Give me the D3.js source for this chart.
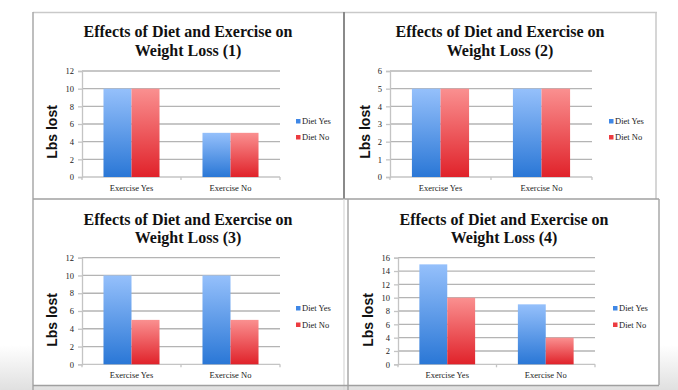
<!DOCTYPE html>
<html>
<head>
<meta charset="utf-8">
<script src="https://cdn.jsdelivr.net/npm/d3@7"></script>
<style>
  html, body { margin: 0; padding: 0; background: #ffffff; }
  svg { display: block; }
</style>
</head>
<body>
<svg id="chart" width="678" height="390"></svg>
<script>
// ---------------- DATA ----------------
const categories = ["Exercise Yes", "Exercise No"];
const seriesNames = ["Diet Yes", "Diet No"];
const titles = [
  ["Effects of Diet and Exercise on", "Weight Loss (1)"],
  ["Effects of Diet and Exercise on", "Weight Loss (2)"],
  ["Effects of Diet and Exercise on", "Weight Loss (3)"],
  ["Effects of Diet and Exercise on", "Weight Loss (4)"]
];
const chart1DietYes = [10, 5];
const chart1DietNo  = [10, 5];
const chart2DietYes = [5, 5];
const chart2DietNo  = [5, 5];
const chart3DietYes = [10, 10];
const chart3DietNo  = [5, 5];
const chart4DietYes = [15, 9];
const chart4DietNo  = [10, 4];
const yTicks1 = [0, 2, 4, 6, 8, 10, 12];
const yTicks2 = [0, 1, 2, 3, 4, 5, 6];
const yTicks3 = [0, 2, 4, 6, 8, 10, 12];
const yTicks4 = [0, 2, 4, 6, 8, 10, 12, 14, 16];
const yAxisTitle = "Lbs lost";

// ---------------- LAYOUT ----------------
const svg = d3.select("#chart");
const defs = svg.append("defs");

function grad(id, top, bottom) {
  const g = defs.append("linearGradient").attr("id", id)
    .attr("x1", 0).attr("y1", 0).attr("x2", 0).attr("y2", 1);
  g.append("stop").attr("offset", "0%").attr("stop-color", top);
  g.append("stop").attr("offset", "100%").attr("stop-color", bottom);
}
grad("gBlue", "#95c0fb", "#2a77d6");
grad("gRed", "#fa9090", "#e0222a");
grad("gBg", "#ffffff", "#e0e0e0");
const fills = ["url(#gBlue)", "url(#gRed)"];
const legendFills = ["#3f87e6", "#ec3b40"];

// page shading at the bottom
svg.append("rect").attr("x", 0).attr("y", 345).attr("width", 678).attr("height", 45)
  .attr("fill", "url(#gBg)");
// white panel interiors of the lower row
svg.append("rect").attr("x", 33).attr("y", 199).attr("width", 626).attr("height", 186)
  .attr("fill", "#ffffff");

// panel frames
const frame = svg.append("g").attr("fill", "none");
frame.append("line").attr("x1", 33).attr("x2", 657).attr("y1", 12.5).attr("y2", 12.5)
  .attr("stroke", "#c9c9c9").attr("stroke-width", 1.5);
frame.append("line").attr("x1", 33).attr("x2", 33).attr("y1", 12).attr("y2", 390)
  .attr("stroke", "#a8a8a8").attr("stroke-width", 1.5);
frame.append("line").attr("x1", 656).attr("x2", 656).attr("y1", 12).attr("y2", 199)
  .attr("stroke", "#c9c9c9").attr("stroke-width", 1.5);
frame.append("line").attr("x1", 344).attr("x2", 344).attr("y1", 12).attr("y2", 199)
  .attr("stroke", "#8a8a8a").attr("stroke-width", 2);
frame.append("line").attr("x1", 33).attr("x2", 659).attr("y1", 199).attr("y2", 199)
  .attr("stroke", "#a0a0a0").attr("stroke-width", 1.5);
frame.append("line").attr("x1", 344).attr("x2", 344).attr("y1", 199).attr("y2", 390)
  .attr("stroke", "#d8d8d8").attr("stroke-width", 1.2);
frame.append("line").attr("x1", 348).attr("x2", 348).attr("y1", 199).attr("y2", 390)
  .attr("stroke", "#a8a8a8").attr("stroke-width", 1.5);
frame.append("line").attr("x1", 659).attr("x2", 659).attr("y1", 199).attr("y2", 385)
  .attr("stroke", "#a8a8a8").attr("stroke-width", 1.5);
frame.append("line").attr("x1", 33).attr("x2", 659).attr("y1", 385.5).attr("y2", 385.5)
  .attr("stroke", "#a0a0a0").attr("stroke-width", 1.5);

const charts = [
  { title: titles[0], yes: chart1DietYes, no: chart1DietNo, ticks: yTicks1,
    x0: 82, x1: 280, yT: 71, yB: 177, tcx: 188, t1: 37, t2: 55.5,
    legX: 296, legY: [121.5, 137.5], ytX: 52, ytY: 132 },
  { title: titles[1], yes: chart2DietYes, no: chart2DietNo, ticks: yTicks2,
    x0: 390, x1: 592, yT: 71, yB: 177, tcx: 500, t1: 37, t2: 55.5,
    legX: 609, legY: [121.5, 137.5], ytX: 365, ytY: 132 },
  { title: titles[2], yes: chart3DietYes, no: chart3DietNo, ticks: yTicks3,
    x0: 82, x1: 280, yT: 257.7, yB: 364.3, tcx: 188, t1: 224.5, t2: 242.5,
    legX: 296, legY: [308.5, 325], ytX: 52, ytY: 320 },
  { title: titles[3], yes: chart4DietYes, no: chart4DietNo, ticks: yTicks4,
    x0: 398, x1: 595, yT: 257.7, yB: 364.3, tcx: 504, t1: 224.5, t2: 242.5,
    legX: 613, legY: [308.5, 325], ytX: 368, ytY: 320 }
];

const serif = "'Liberation Serif', 'DejaVu Serif', serif";

charts.forEach(c => {
  const g = svg.append("g");
  const yMax = d3.max(c.ticks);
  const y = d3.scaleLinear().domain([0, yMax]).range([c.yB, c.yT]);
  const x = d3.scaleBand().domain(categories).range([c.x0, c.x1])
    .paddingInner(0.434).paddingOuter(0.217);
  const xs = d3.scaleBand().domain(seriesNames).range([0, x.bandwidth()]);

  // gridlines
  g.append("g").selectAll("line").data(c.ticks.filter(t => t > 0)).join("line")
    .attr("x1", c.x0).attr("x2", c.x1)
    .attr("y1", d => y(d)).attr("y2", d => y(d))
    .attr("stroke", "#b4b4b4").attr("stroke-width", 1.3);

  // y axis
  const yAxis = d3.axisLeft(y).tickValues(c.ticks).tickSize(4).tickPadding(4)
    .tickFormat(d3.format("d"));
  const ya = g.append("g").attr("transform", `translate(${c.x0},0)`).call(yAxis);
  ya.select(".domain").attr("stroke", "#c4c4c4").attr("stroke-width", 1.3);
  ya.selectAll(".tick line").attr("stroke", "#c4c4c4").attr("stroke-width", 1.3);
  ya.selectAll(".tick text").attr("font-family", serif).attr("font-size", 8.5)
    .attr("fill", "#222");

  // x axis
  const xa = g.append("g").attr("transform", `translate(0,${c.yB})`);
  xa.append("line").attr("x1", c.x0).attr("x2", c.x1).attr("y1", 0).attr("y2", 0)
    .attr("stroke", "#c4c4c4").attr("stroke-width", 1.3);
  const bounds = [c.x0, (c.x0 + c.x1) / 2, c.x1];
  xa.selectAll("line.tk").data(bounds).join("line").attr("class", "tk")
    .attr("x1", d => d).attr("x2", d => d).attr("y1", 0).attr("y2", 3)
    .attr("stroke", "#c4c4c4").attr("stroke-width", 1.3);
  xa.selectAll("text").data(categories).join("text")
    .attr("x", d => x(d) + x.bandwidth() / 2).attr("y", 14)
    .attr("text-anchor", "middle")
    .attr("font-family", serif).attr("font-size", 8.5).attr("fill", "#222")
    .text(d => d);

  // bars
  const series = [c.yes, c.no];
  series.forEach((vals, si) => {
    g.append("g").selectAll("rect").data(categories).join("rect")
      .attr("x", (d) => x(d) + xs(seriesNames[si]))
      .attr("width", xs.bandwidth())
      .attr("y", (d, i) => y(vals[i]))
      .attr("height", (d, i) => c.yB - y(vals[i]))
      .attr("fill", fills[si]);
  });

  // title
  const tt = g.append("text").attr("text-anchor", "middle")
    .attr("font-family", serif).attr("font-weight", "bold").attr("font-size", 16)
    .attr("fill", "#111");
  tt.append("tspan").attr("x", c.tcx).attr("y", c.t1).text(c.title[0]);
  tt.append("tspan").attr("x", c.tcx).attr("y", c.t2).text(c.title[1]);

  // y axis title
  g.append("text")
    .attr("transform", `translate(${c.ytX},${c.ytY}) rotate(-90)`)
    .attr("text-anchor", "middle").attr("dy", "0.35em")
    .attr("font-family", "'Liberation Sans', Arial, sans-serif")
    .attr("font-weight", "bold").attr("font-size", 14).attr("fill", "#111")
    .text(yAxisTitle);

  // legend
  const lg = g.append("g");
  seriesNames.forEach((s, i) => {
    lg.append("rect").attr("x", c.legX).attr("y", c.legY[i] - 2.5)
      .attr("width", 4.5).attr("height", 4.5).attr("fill", legendFills[i]);
    lg.append("text").attr("x", c.legX + 6).attr("y", c.legY[i])
      .attr("dy", "0.35em").attr("font-family", serif).attr("font-size", 8.5)
      .attr("fill", "#222").text(s);
  });
});
</script>
</body>
</html>
